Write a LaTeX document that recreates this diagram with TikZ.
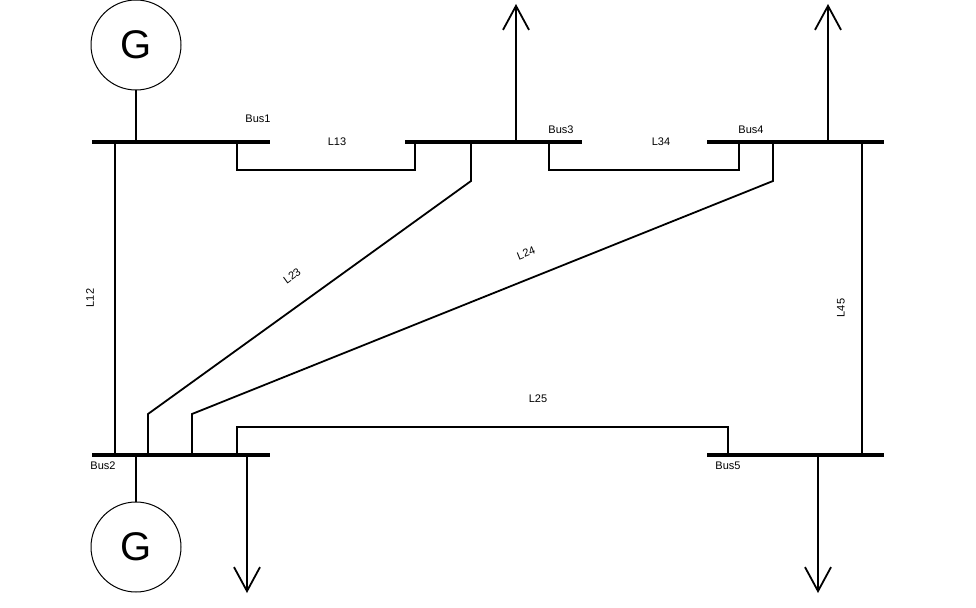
\documentclass[tikz,border=0pt]{standalone}
\usepackage{fontspec}
\setmainfont{Liberation Sans}
\usetikzlibrary{arrows.meta}
\begin{document}
\begin{tikzpicture}[x=1pt,y=-1pt,
  bus/.style={line width=4pt},
  ln/.style={line width=1.8pt},
  lbl/.style={font=\fontsize{11}{12}\selectfont,inner sep=0pt},
  gen/.style={draw,circle,line width=1pt,minimum size=90pt,inner sep=0pt,font=\fontsize{40}{42}\selectfont},
  load/.style={line width=1.8pt,-{Straight Barb[length=24pt,width=26pt,line width=1.8pt]}}]
\useasboundingbox (0,0) rectangle (976,607);
% buses
\draw[bus] (92,142) -- (270,142);
\draw[bus] (405,142) -- (582,142);
\draw[bus] (707,142) -- (884,142);
\draw[bus] (92,455) -- (270,455);
\draw[bus] (707,455) -- (884,455);
\node[lbl] (n1) at (258,119) {Bus1};
\node[lbl] (n3) at (561,130) {Bus3};
\node[lbl] (n4) at (751,130) {Bus4};
\node[lbl] (n2) at (103,466) {Bus2};
\node[lbl] (n5) at (728,466) {Bus5};
% generators
\node[gen] (g1) at (136,45) {G};
\node[gen] (g2) at (136,547) {G};
\coordinate (g1b) at (136,142);
\coordinate (g2b) at (136,455);
\draw[ln] (g1.south) -- (g1b);
\draw[ln] (g2.north) -- (g2b);
% lines
\draw[ln] (237,142) -- (237,170) -- (415,170) -- (415,142);
\node[lbl] (l13) at (337,142) {L13};
\draw[ln] (549,142) -- (549,170) -- (739,170) -- (739,142);
\node[lbl] (l34) at (661,142) {L34};
\draw[ln] (115,142) -- (115,455);
\node[lbl,rotate=90] (l12) at (90,298) {L12};
\draw[ln] (471,142) -- (471,181) -- (148,414) -- (148,455);
\node[lbl,rotate=36] (l23) at (292,276) {L23};
\draw[ln] (773,142) -- (773,181) -- (192,414) -- (192,455);
\node[lbl,rotate=22] (l24) at (526,253) {L24};
\draw[ln] (862,142) -- (862,455);
\node[lbl,rotate=90] (l45) at (841,308) {L45};
\draw[ln] (237,455) -- (237,427) -- (728,427) -- (728,455);
\node[lbl] (l25) at (538,399) {L25};
% loads
\coordinate (a3) at (516,4);
\coordinate (a4) at (828,4);
\coordinate (a2) at (247,593);
\coordinate (a5) at (818,593);
\draw[load] (516,142) -- (a3);
\draw[load] (828,142) -- (a4);
\draw[load] (247,455) -- (a2);
\draw[load] (818,455) -- (a5);
\end{tikzpicture}
\end{document}
